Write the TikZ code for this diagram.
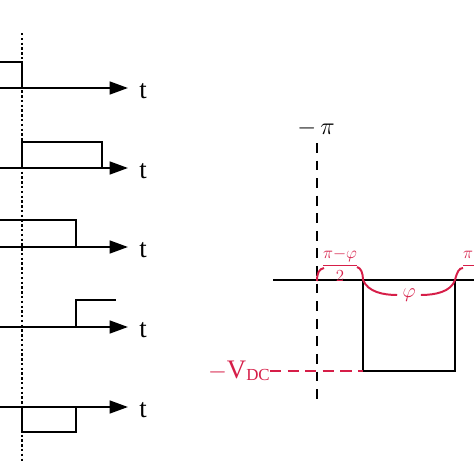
\documentclass[tikz,border=0pt]{standalone}
\usepackage{fontspec}
\setmainfont{Liberation Serif}
\usepackage{amsmath}
\usetikzlibrary{
		calc,
		positioning,
		arrows.meta
	}
\definecolor{phasered}{RGB}{214,30,72}
\newcommand{\Red}[1]{\textcolor{phasered}{#1}}

\begin{document}
\begin{tikzpicture}[x=0.025cm, y=-0.025cm,
				axis/.style={line width=1.7pt, -{Triangle[length=13pt, width=9pt]}},
				pulse/.style={line width=1.7pt},
				sync/.style={line width=1.7pt, dash pattern=on 1.7pt off 1.7pt},
				tlabel/.style={inner sep=0pt, font=\fontsize{19}{19}\selectfont},
				thin axis/.style={line width=1.1pt},
				refline/.style={line width=1.3pt, dash pattern=on 7pt off 5.5pt},
				level/.style={phasered, line width=1.1pt, dash pattern=on 8pt off 4.5pt},
				brace/.style={phasered, line width=1.4pt},
				redlabel/.style={phasered, inner sep=0pt}]
		\clip (0,0) rectangle (474,474);
		% left panel: switching pulses
		\foreach \i/\y in {1/88, 2/168, 3/247, 4/327, 5/407} {
			\coordinate (o\i) at (-5,\y);
			\coordinate (e\i) at (128,\y);
			\draw[axis] (o\i) -- (e\i);
			\node[tlabel] (t\i) at ($(e\i)+(15,3)$) {t};
		}
		\draw[pulse] (-5,62) -- (22,62) -- (22,88);
		\draw[pulse] (22,168) -- (22,142) -- (102,142) -- (102,168);
		\draw[pulse] (-5,220) -- (76,220) -- (76,247);
		\draw[pulse] (76,327) -- (76,300) -- (116,300);
		\draw[pulse] (22,407) -- (22,432) -- (76,432) -- (76,407);
		\coordinate (s0) at (22,33);
		\coordinate (s1) at (22,461);
		\draw[sync] (s0) -- (s1);
		% right panel: output voltage
		\coordinate (h0) at (273,280);
		\coordinate (h1) at (480,280);
		\draw[thin axis] (h0) -- (h1);
		\coordinate (v0) at (317,143);
		\coordinate (v1) at (317,406);
		\draw[refline] (v0) -- (v1);
		\node[inner sep=0pt, font=\fontsize{16}{16}\selectfont] (mpi) at (316,128) {$-\,\pi$};
		\coordinate (r0) at (363,280);
		\coordinate (r1) at (455,371);
		\draw[line width=1.1pt] (r0) rectangle (r1);
		\node[redlabel, anchor=east, font=\fontsize{19}{19}\selectfont] (vdc) at (270,371)
			{$-$V\raisebox{-0.2ex}{\fontsize{12}{12}\selectfont DC}};
		\draw[level] (vdc.east |- r1) -- (r0 |- r1);
		\node[redlabel, font=\fontsize{12}{12}\selectfont] (f1) at (340,265)
			{$\dfrac{\pi{-}\varphi}{2}$};
		\node[redlabel, font=\fontsize{12}{12}\selectfont] (f2) at (480,265)
			{$\dfrac{\pi{-}\varphi}{2}$};
		\node[redlabel, font=\fontsize{14}{14}\selectfont] (phi) at (409,295) {$\varphi$};
		\draw[brace] (317,281) .. controls (317,273) and (319,269) .. (324,268);
		\draw[brace] (357,267) .. controls (361,268) and (363,273) .. (r0);
		\draw[brace] (r0) .. controls +(5,12) and +(-14,0) .. ($(phi.west)+(-5,0)$);
		\draw[brace] ($(phi.east)+(5,0)$) .. controls +(14,0) and +(-4,12) .. (r1 |- r0)
			.. controls +(2,-8) and +(-4,0) .. (463,268);
	\end{tikzpicture}
\end{document}
